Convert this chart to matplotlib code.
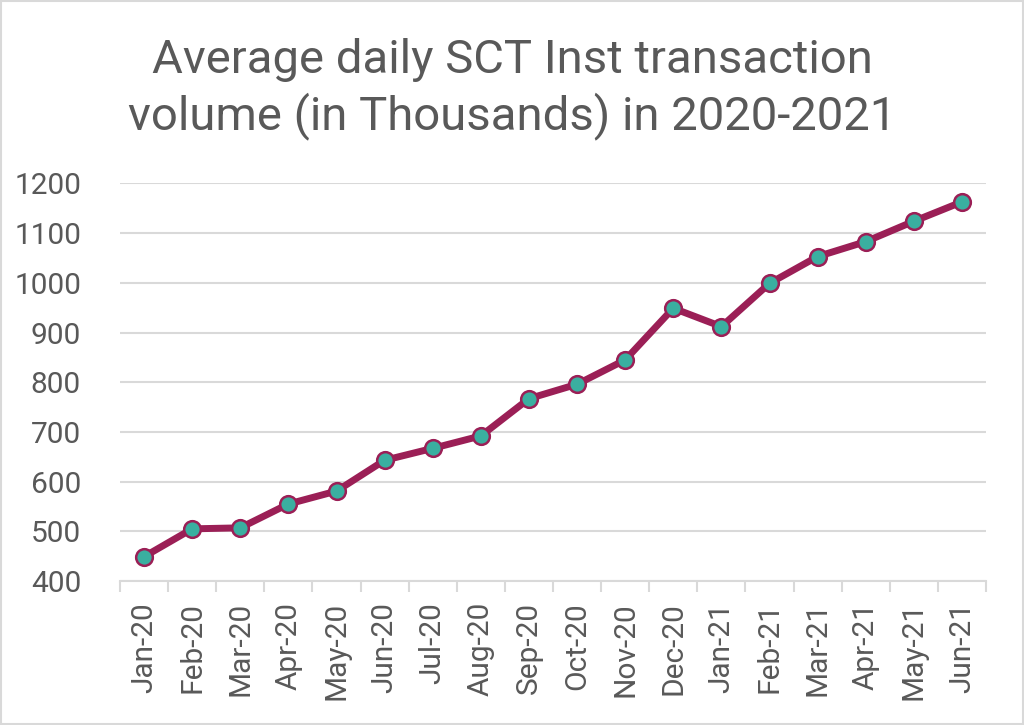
import numpy as np
import matplotlib.pyplot as plt
from matplotlib.patches import Rectangle

# Data
months = ["Jan-20", "Feb-20", "Mar-20", "Apr-20", "May-20", "Jun-20",
          "Jul-20", "Aug-20", "Sep-20", "Oct-20", "Nov-20", "Dec-20",
          "Jan-21", "Feb-21", "Mar-21", "Apr-21", "May-21", "Jun-21"]
volume = [449, 505, 507, 555, 581, 643, 667, 692, 767, 796, 845, 949,
          912, 999, 1053, 1083, 1124, 1163]
yticks = [400, 500, 600, 700, 800, 900, 1000, 1100, 1200]

plt.rcParams['font.family'] = ['Roboto', 'DejaVu Sans']
text_col = '#595959'
grid_col = '#D9D9D9'

fig = plt.figure(figsize=(10.24, 7.25), dpi=100)
ax = fig.add_axes([0.1172, 0.1986, 0.9629 - 0.1172, 0.7469 - 0.1986])

x = np.arange(len(months))
ax.plot(x, volume, color='#9B1F56', linewidth=5, marker='o', markersize=12,
        markerfacecolor='#3AAFA0', markeredgecolor='#9B1F56', markeredgewidth=1.8,
        zorder=3)

# Axes setup
ax.set_xlim(-0.5, len(months) - 0.5)
ax.set_ylim(400, 1200)
ax.set_yticks(yticks)
ax.set_xticks(x)
ax.set_xticklabels(months, rotation=90)
ax.set_xticks(np.arange(len(months) + 1) - 0.5, minor=True)
ax.tick_params(axis='x', which='major', length=0, pad=15, labelsize=21.5, labelcolor=text_col)
ax.tick_params(axis='x', which='minor', length=8, width=1.5, color=grid_col)
ax.tick_params(axis='y', length=0, pad=28, labelsize=21.5, labelcolor=text_col)

ax.grid(axis='y', color=grid_col, linewidth=1.5)
ax.set_axisbelow(True)
for s in ['top', 'right', 'left']:
    ax.spines[s].set_visible(False)
ax.spines['bottom'].set_color(grid_col)
ax.spines['bottom'].set_linewidth(1.5)

# Title (two lines, last baseline placed)
fig.text(0.5, 0.8221, "Average daily SCT Inst transaction\nvolume (in Thousands) in 2020-2021",
         ha='center', va='baseline', fontsize=34, color=text_col, linespacing=1.25)

# Light border around the whole chart
fig.add_artist(Rectangle((0.001, 0.001), 0.998, 0.998, transform=fig.transFigure,
                         fill=False, edgecolor='#D9D9D9', linewidth=1.5))

plt.savefig('out.png', dpi=100)
